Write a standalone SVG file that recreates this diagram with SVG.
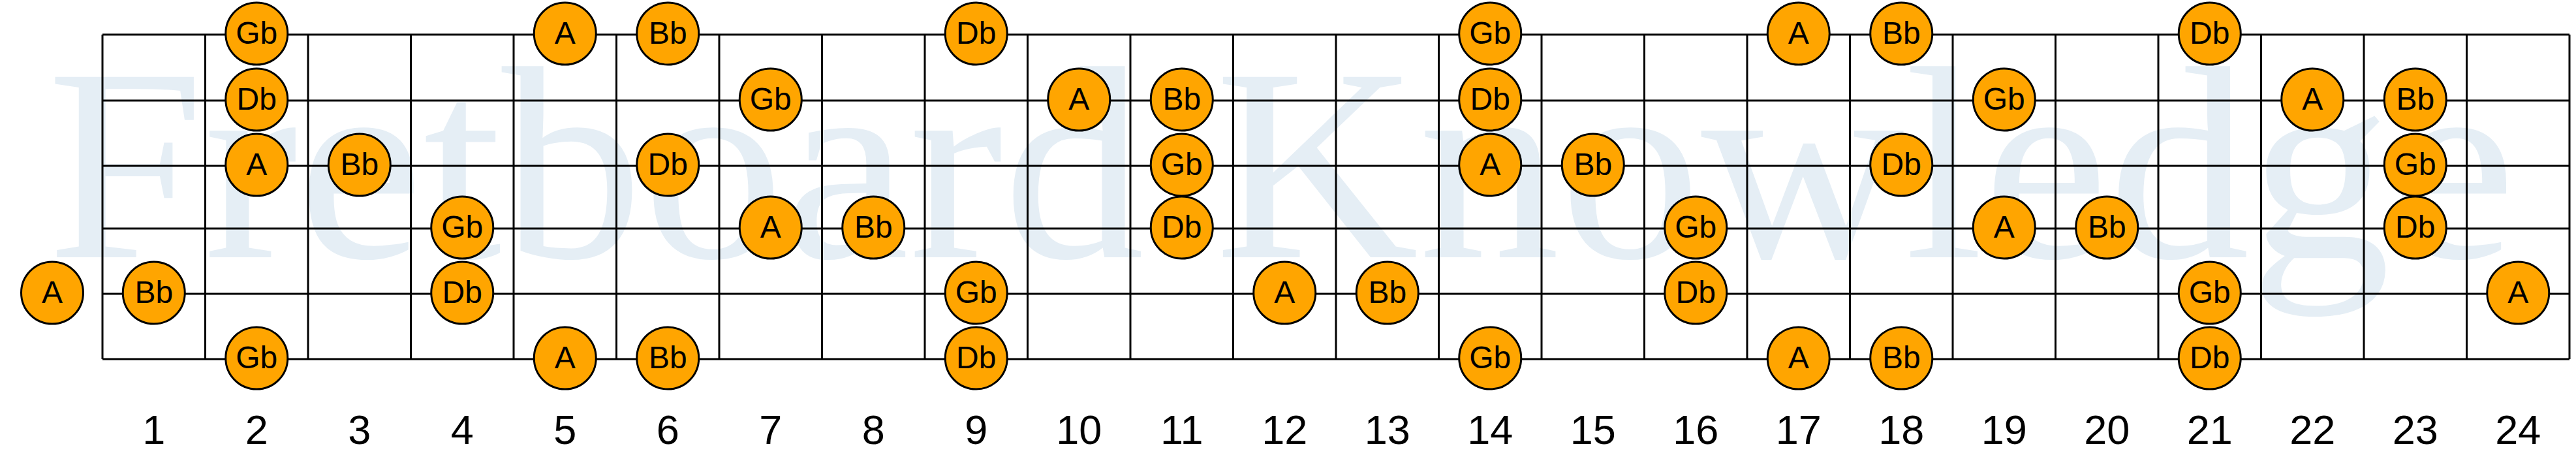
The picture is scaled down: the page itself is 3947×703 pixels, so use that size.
<svg xmlns="http://www.w3.org/2000/svg" width="3947" height="703" viewBox="0 0 3947 703">
<style>
.wm{font-family:"Liberation Serif","Times New Roman",serif;font-size:422px;fill:#e5eef5}
.grid{fill:none;stroke:#000;stroke-width:3}
.note circle{fill:#ffa500;stroke:#000;stroke-width:3}
.note text{font-family:"Liberation Sans",Arial,sans-serif;font-size:48px;fill:#000;text-anchor:middle}
.num{font-family:"Liberation Sans",Arial,sans-serif;font-size:63px;fill:#000;text-anchor:middle}
</style>
<rect width="3947" height="703" fill="#fff"/>
<text class="wm" x="72" y="394" textLength="3783" lengthAdjust="spacingAndGlyphs">Fretboard Knowledge</text>
<g id="connectors">
<path class="grid" d="M157 53H3937M157 154H3937M157 254H3937M157 350H3937M157 450H3937M157 550H3937
M157 53V550M314.5 53V550M472 53V550M629.5 53V550M787 53V550M944.5 53V550M1102 53V550M1259.5 53V550M1417 53V550M1574.5 53V550M1732 53V550M1889.5 53V550M2047 53V550M2204.5 53V550M2362 53V550M2519.5 53V550M2677 53V550M2834.5 53V550M2992 53V550M3149.5 53V550M3307 53V550M3464.5 53V550M3622 53V550M3779.5 53V550M3937 53V550"/>
</g>
<g id="notes">
<!-- string 1 (y=53) -->
<g id="s1f2" class="note"><circle cx="393.25" cy="51.5" r="47.5"/><text x="393.25" y="67">Gb</text></g>
<g id="s1f5" class="note"><circle cx="865.75" cy="51.5" r="47.5"/><text x="865.75" y="67">A</text></g>
<g id="s1f6" class="note"><circle cx="1023.25" cy="51.5" r="47.5"/><text x="1023.25" y="67">Bb</text></g>
<g id="s1f9" class="note"><circle cx="1495.75" cy="51.5" r="47.5"/><text x="1495.75" y="67">Db</text></g>
<g id="s1f14" class="note"><circle cx="2283.25" cy="51.5" r="47.5"/><text x="2283.25" y="67">Gb</text></g>
<g id="s1f17" class="note"><circle cx="2755.75" cy="51.5" r="47.5"/><text x="2755.75" y="67">A</text></g>
<g id="s1f18" class="note"><circle cx="2913.25" cy="51.5" r="47.5"/><text x="2913.25" y="67">Bb</text></g>
<g id="s1f21" class="note"><circle cx="3385.75" cy="51.5" r="47.5"/><text x="3385.75" y="67">Db</text></g>
<!-- string 2 (y=154) -->
<g id="s2f2" class="note"><circle cx="393.25" cy="152.5" r="47.5"/><text x="393.25" y="168">Db</text></g>
<g id="s2f7" class="note"><circle cx="1180.75" cy="152.5" r="47.5"/><text x="1180.75" y="168">Gb</text></g>
<g id="s2f10" class="note"><circle cx="1653.25" cy="152.5" r="47.5"/><text x="1653.25" y="168">A</text></g>
<g id="s2f11" class="note"><circle cx="1810.75" cy="152.5" r="47.5"/><text x="1810.75" y="168">Bb</text></g>
<g id="s2f14" class="note"><circle cx="2283.25" cy="152.5" r="47.5"/><text x="2283.25" y="168">Db</text></g>
<g id="s2f19" class="note"><circle cx="3070.75" cy="152.5" r="47.5"/><text x="3070.75" y="168">Gb</text></g>
<g id="s2f22" class="note"><circle cx="3543.25" cy="152.5" r="47.5"/><text x="3543.25" y="168">A</text></g>
<g id="s2f23" class="note"><circle cx="3700.75" cy="152.5" r="47.5"/><text x="3700.75" y="168">Bb</text></g>
<!-- string 3 (y=254) -->
<g id="s3f2" class="note"><circle cx="393.25" cy="252.5" r="47.5"/><text x="393.25" y="268">A</text></g>
<g id="s3f3" class="note"><circle cx="550.75" cy="252.5" r="47.5"/><text x="550.75" y="268">Bb</text></g>
<g id="s3f6" class="note"><circle cx="1023.25" cy="252.5" r="47.5"/><text x="1023.25" y="268">Db</text></g>
<g id="s3f11" class="note"><circle cx="1810.75" cy="252.5" r="47.5"/><text x="1810.75" y="268">Gb</text></g>
<g id="s3f14" class="note"><circle cx="2283.25" cy="252.5" r="47.5"/><text x="2283.25" y="268">A</text></g>
<g id="s3f15" class="note"><circle cx="2440.75" cy="252.5" r="47.5"/><text x="2440.75" y="268">Bb</text></g>
<g id="s3f18" class="note"><circle cx="2913.25" cy="252.5" r="47.5"/><text x="2913.25" y="268">Db</text></g>
<g id="s3f23" class="note"><circle cx="3700.75" cy="252.5" r="47.5"/><text x="3700.75" y="268">Gb</text></g>
<!-- string 4 (y=350) -->
<g id="s4f4" class="note"><circle cx="708.25" cy="348.5" r="47.5"/><text x="708.25" y="364">Gb</text></g>
<g id="s4f7" class="note"><circle cx="1180.75" cy="348.5" r="47.5"/><text x="1180.75" y="364">A</text></g>
<g id="s4f8" class="note"><circle cx="1338.25" cy="348.5" r="47.5"/><text x="1338.25" y="364">Bb</text></g>
<g id="s4f11" class="note"><circle cx="1810.75" cy="348.5" r="47.5"/><text x="1810.75" y="364">Db</text></g>
<g id="s4f16" class="note"><circle cx="2598.25" cy="348.5" r="47.5"/><text x="2598.25" y="364">Gb</text></g>
<g id="s4f19" class="note"><circle cx="3070.75" cy="348.5" r="47.5"/><text x="3070.75" y="364">A</text></g>
<g id="s4f20" class="note"><circle cx="3228.25" cy="348.5" r="47.5"/><text x="3228.25" y="364">Bb</text></g>
<g id="s4f23" class="note"><circle cx="3700.75" cy="348.5" r="47.5"/><text x="3700.75" y="364">Db</text></g>
<!-- string 5 (y=450) -->
<g id="s5f0" class="note"><circle cx="80" cy="448.5" r="47.5"/><text x="80" y="464">A</text></g>
<g id="s5f1" class="note"><circle cx="235.75" cy="448.5" r="47.5"/><text x="235.75" y="464">Bb</text></g>
<g id="s5f4" class="note"><circle cx="708.25" cy="448.5" r="47.5"/><text x="708.25" y="464">Db</text></g>
<g id="s5f9" class="note"><circle cx="1495.75" cy="448.5" r="47.5"/><text x="1495.75" y="464">Gb</text></g>
<g id="s5f12" class="note"><circle cx="1968.25" cy="448.5" r="47.5"/><text x="1968.25" y="464">A</text></g>
<g id="s5f13" class="note"><circle cx="2125.75" cy="448.5" r="47.5"/><text x="2125.75" y="464">Bb</text></g>
<g id="s5f16" class="note"><circle cx="2598.25" cy="448.5" r="47.5"/><text x="2598.25" y="464">Db</text></g>
<g id="s5f21" class="note"><circle cx="3385.75" cy="448.5" r="47.5"/><text x="3385.75" y="464">Gb</text></g>
<g id="s5f24" class="note"><circle cx="3858.25" cy="448.5" r="47.5"/><text x="3858.25" y="464">A</text></g>
<!-- string 6 (y=550) -->
<g id="s6f2" class="note"><circle cx="393.25" cy="548.5" r="47.5"/><text x="393.25" y="564">Gb</text></g>
<g id="s6f5" class="note"><circle cx="865.75" cy="548.5" r="47.5"/><text x="865.75" y="564">A</text></g>
<g id="s6f6" class="note"><circle cx="1023.25" cy="548.5" r="47.5"/><text x="1023.25" y="564">Bb</text></g>
<g id="s6f9" class="note"><circle cx="1495.75" cy="548.5" r="47.5"/><text x="1495.75" y="564">Db</text></g>
<g id="s6f14" class="note"><circle cx="2283.25" cy="548.5" r="47.5"/><text x="2283.25" y="564">Gb</text></g>
<g id="s6f17" class="note"><circle cx="2755.75" cy="548.5" r="47.5"/><text x="2755.75" y="564">A</text></g>
<g id="s6f18" class="note"><circle cx="2913.25" cy="548.5" r="47.5"/><text x="2913.25" y="564">Bb</text></g>
<g id="s6f21" class="note"><circle cx="3385.75" cy="548.5" r="47.5"/><text x="3385.75" y="564">Db</text></g>
</g>
<g id="fret-numbers">
<text class="num" x="235.75" y="680">1</text>
<text class="num" x="393.25" y="680">2</text>
<text class="num" x="550.75" y="680">3</text>
<text class="num" x="708.25" y="680">4</text>
<text class="num" x="865.75" y="680">5</text>
<text class="num" x="1023.25" y="680">6</text>
<text class="num" x="1180.75" y="680">7</text>
<text class="num" x="1338.25" y="680">8</text>
<text class="num" x="1495.75" y="680">9</text>
<text class="num" x="1653.25" y="680">10</text>
<text class="num" x="1810.75" y="680">11</text>
<text class="num" x="1968.25" y="680">12</text>
<text class="num" x="2125.75" y="680">13</text>
<text class="num" x="2283.25" y="680">14</text>
<text class="num" x="2440.75" y="680">15</text>
<text class="num" x="2598.25" y="680">16</text>
<text class="num" x="2755.75" y="680">17</text>
<text class="num" x="2913.25" y="680">18</text>
<text class="num" x="3070.75" y="680">19</text>
<text class="num" x="3228.25" y="680">20</text>
<text class="num" x="3385.75" y="680">21</text>
<text class="num" x="3543.25" y="680">22</text>
<text class="num" x="3700.75" y="680">23</text>
<text class="num" x="3858.25" y="680">24</text>
</g>
</svg>
